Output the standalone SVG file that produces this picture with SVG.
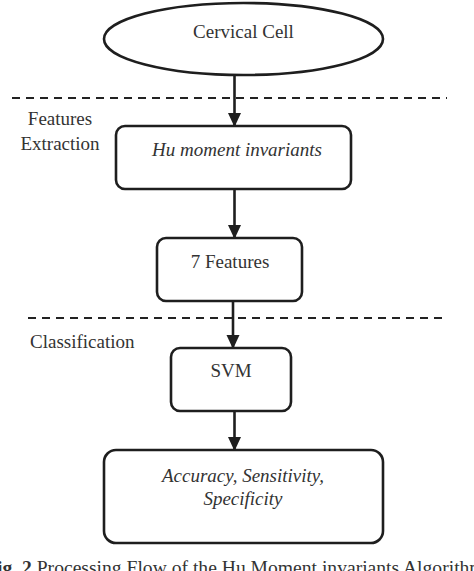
<svg xmlns="http://www.w3.org/2000/svg" width="474" height="571" viewBox="0 0 474 571">
<style>
.node{fill:#fff;stroke:#1e1e1e;stroke-width:2.6}
.t{font-size:19px;fill:#333;text-anchor:middle}
.i{font-style:italic}
.lbl{font-size:19px;fill:#333}
.dash{stroke:#222;stroke-width:2;stroke-dasharray:8,6;fill:none}
.arr{stroke:#1e1e1e;stroke-width:2.6;fill:none;marker-end:url(#ah)}
</style>
<defs>
<marker id="ah" markerWidth="14" markerHeight="14" refX="13" refY="7" orient="auto" markerUnits="userSpaceOnUse">
<path d="M0,0.5 L14,7 L0,13.5 Z" fill="#1e1e1e"/>
</marker>
</defs>
<rect width="474" height="571" fill="#fff"/>
<g id="separators">
<line class="dash" x1="12" y1="98" x2="447" y2="98"/>
<line class="dash" x1="28" y1="318" x2="443" y2="318"/>
</g>
<g id="stage-labels" font-family="Liberation Serif">
<text class="lbl" x="60" y="125" text-anchor="middle">Features</text>
<text class="lbl" x="60" y="150" text-anchor="middle">Extraction</text>
<text class="lbl" x="30" y="348">Classification</text>
</g>
<g id="connectors">
<line class="arr" x1="234.5" y1="75" x2="234.5" y2="126"/>
<line class="arr" x1="234.5" y1="189" x2="234.5" y2="238"/>
<line class="arr" x1="233" y1="301" x2="233" y2="348"/>
<line class="arr" x1="234.5" y1="411" x2="234.5" y2="450"/>
</g>
<g id="cervical-cell" font-family="Liberation Serif">
<ellipse class="node" cx="243.5" cy="39" rx="139.5" ry="36"/>
<text class="t" x="243.5" y="38">Cervical Cell</text>
</g>
<g id="hu-moment" font-family="Liberation Serif">
<rect class="node" x="116" y="126" width="235" height="63" rx="9"/>
<text class="t i" x="237" y="156">Hu moment invariants</text>
</g>
<g id="seven-features" font-family="Liberation Serif">
<rect class="node" x="157" y="238" width="145" height="63" rx="9"/>
<text class="t" x="230" y="268">7 Features</text>
</g>
<g id="svm" font-family="Liberation Serif">
<rect class="node" x="171" y="348" width="120" height="63" rx="9"/>
<text class="t" x="231" y="377">SVM</text>
</g>
<g id="metrics" font-family="Liberation Serif">
<rect class="node" x="104" y="450" width="279" height="93" rx="12"/>
<text class="t i" x="243" y="482">Accuracy, Sensitivity,</text>
<text class="t i" x="243" y="505">Specificity</text>
</g>
<g id="caption" font-family="Liberation Serif">
<text x="-15" y="574" fill="#333" font-size="19.6"><tspan font-weight="bold">Fig. 2</tspan> Processing Flow of the Hu Moment invariants Algorithm</text>
</g>
</svg>
